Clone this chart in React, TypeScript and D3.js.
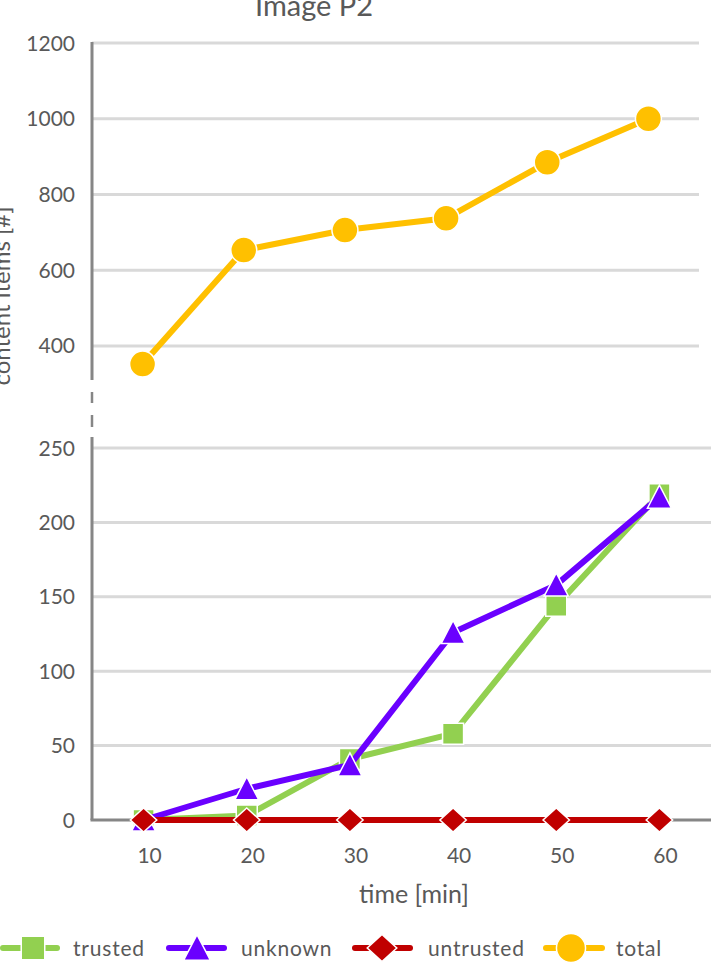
import React from "react";
import * as d3 from "d3";

// chart data
const times = ["10", "20", "30", "40", "50", "60"];
const trusted = [0, 3, 41, 58, 144, 219];
const unknown = [0, 21, 37, 126, 158, 217];
const untrusted = [0, 0, 0, 0, 0, 0];
const total = [352, 653, 706, 737, 885, 1000];

const topTicks = [400, 600, 800, 1000, 1200];
const bottomTicks = [0, 50, 100, 150, 200, 250];

type Marker = "square" | "triangle" | "diamond" | "circle";

interface Series {
  name: string;
  values: number[];
  color: string;
  marker: Marker;
}

const lowSeries: Series[] = [
  { name: "trusted", values: trusted, color: "#92D050", marker: "square" },
  { name: "unknown", values: unknown, color: "#6A00FF", marker: "triangle" },
  { name: "untrusted", values: untrusted, color: "#C00000", marker: "diamond" },
];
const highSeries: Series[] = [
  { name: "total", values: total, color: "#FFC000", marker: "circle" },
];

const FONT = "Lato, 'Open Sans', sans-serif";
const TEXT = "#595959";
const GRID = "#D9D9D9";
const AXIS = "#868686";

function markerPath(kind: Marker, s: number) {
  const p = d3.path();
  if (kind === "square") {
    p.rect(-s / 2, -s / 2, s, s);
  } else if (kind === "triangle") {
    const h = s * 0.92;
    p.moveTo(0, -h / 2 - 1);
    p.lineTo(s / 2, h / 2);
    p.lineTo(-s / 2, h / 2);
    p.closePath();
  } else if (kind === "diamond") {
    p.moveTo(0, -s / 2);
    p.lineTo(s * 0.55, 0);
    p.lineTo(0, s / 2);
    p.lineTo(-s * 0.55, 0);
    p.closePath();
  } else {
    p.arc(0, 0, s / 2, 0, Math.PI * 2);
  }
  return p.toString();
}

const markerSize: Record<Marker, number> = {
  square: 21,
  triangle: 24,
  diamond: 24,
  circle: 26,
};

function SeriesMarks(props: {
  s: Series;
  x: d3.ScaleBand<string>;
  y: d3.ScaleLinear<number, number>;
}) {
  const { s, x, y } = props;
  const cx = (i: number) => (x(times[i]) as number) + x.bandwidth() / 2;
  const line = d3
    .line<number>()
    .x((_, i) => cx(i))
    .y((d) => y(d));
  return (
    <g>
      <path
        d={line(s.values) as string}
        fill="none"
        stroke={s.color}
        strokeWidth={6}
        strokeLinejoin="round"
        strokeLinecap="round"
      />
      {s.values.map((v, i) => (
        <path
          key={i}
          transform={`translate(${cx(i)},${y(v)})`}
          d={markerPath(s.marker, markerSize[s.marker])}
          fill={s.color}
          stroke="#fff"
          strokeWidth={1.5}
        />
      ))}
    </g>
  );
}

export default function App() {
  const width = 713;
  const height = 965;
  const left = 92;

  // upper panel (total)
  const xTop = d3.scaleBand<string>().domain(times).range([left, 699]);
  const yTop = d3.scaleLinear().domain([310, 1200]).range([380, 43]);

  // lower panel (trusted / unknown / untrusted)
  const xBot = d3.scaleBand<string>().domain(times).range([left, 711]);
  const yBot = d3.scaleLinear().domain([0, 257.4]).range([820, 437]);

  const legendItems = [
    { s: lowSeries[0], x0: 0, x1: 60, mx: 33, tx: 73 },
    { s: lowSeries[1], x0: 166, x1: 227, mx: 197, tx: 241 },
    { s: lowSeries[2], x0: 352, x1: 413, mx: 382, tx: 428 },
    { s: highSeries[0], x0: 543, x1: 605, mx: 571, tx: 616 },
  ];

  return (
    <svg
      width={width}
      height={height}
      style={{ position: "absolute", left: 0, top: 0, fontFamily: FONT }}
    >
      <rect width={width} height={height} fill="#fff" />

      {/* title, cut at top */}
      <text x={314} y={16} textAnchor="middle" fontSize={29} fill={TEXT}>
        Image P2
      </text>

      {/* y axis title */}
      <text
        transform={`translate(10,296) rotate(-90)`}
        textAnchor="middle"
        fontSize={24}
        fill={TEXT}
      >
        content items [#]
      </text>

      {/* upper panel gridlines */}
      {topTicks.map((t) => (
        <g key={t}>
          <line x1={left} x2={699} y1={yTop(t)} y2={yTop(t)} stroke={GRID} strokeWidth={3} />
          <text
            x={75}
            y={yTop(t)}
            dy="0.36em"
            textAnchor="end"
            fontSize={21}
            fill={TEXT}
          >
            {t}
          </text>
        </g>
      ))}
      <line x1={left} x2={left} y1={yTop(1200) - 1} y2={yTop(310)} stroke={AXIS} strokeWidth={3} />

      {/* axis break dashes */}
      <line x1={left} x2={left} y1={392} y2={403} stroke={AXIS} strokeWidth={2.5} />
      <line x1={left} x2={left} y1={415} y2={427} stroke={AXIS} strokeWidth={2.5} />

      {/* lower panel gridlines */}
      {bottomTicks.map((t) => (
        <g key={t}>
          {t > 0 && (
            <line x1={left} x2={711} y1={yBot(t)} y2={yBot(t)} stroke={GRID} strokeWidth={3} />
          )}
          <text
            x={75}
            y={yBot(t)}
            dy="0.36em"
            textAnchor="end"
            fontSize={21}
            fill={TEXT}
          >
            {t}
          </text>
        </g>
      ))}
      <line x1={left} x2={left} y1={yBot(257.4)} y2={yBot(0)} stroke={AXIS} strokeWidth={3} />
      <line x1={left - 1.5} x2={711} y1={yBot(0)} y2={yBot(0)} stroke={AXIS} strokeWidth={3} />

      {/* x tick labels */}
      {times.map((t) => (
        <text
          key={t}
          x={(xBot(t) as number) + xBot.bandwidth() / 2 + 6}
          y={863}
          textAnchor="middle"
          fontSize={21}
          fill={TEXT}
        >
          {t}
        </text>
      ))}
      <text x={414} y={903} textAnchor="middle" fontSize={25} fill={TEXT}>
        time [min]
      </text>

      {/* series */}
      {lowSeries.map((s) => (
        <SeriesMarks key={s.name} s={s} x={xBot} y={yBot} />
      ))}
      {highSeries.map((s) => (
        <SeriesMarks key={s.name} s={s} x={xTop} y={yTop} />
      ))}

      {/* legend */}
      {legendItems.map(({ s, x0, x1, mx, tx }) => (
        <g key={s.name}>
          <line
            x1={x0 + 3}
            x2={x1 - 3}
            y1={948}
            y2={948}
            stroke={s.color}
            strokeWidth={6}
            strokeLinecap="round"
          />
          <path
            transform={`translate(${mx},948)`}
            d={markerPath(s.marker, markerSize[s.marker] * 1.12)}
            fill={s.color}
            stroke="#fff"
            strokeWidth={1.5}
          />
          <text x={tx} y={956} fontSize={21} fill={TEXT} letterSpacing={0.8}>
            {s.name}
          </text>
        </g>
      ))}
    </svg>
  );
}
